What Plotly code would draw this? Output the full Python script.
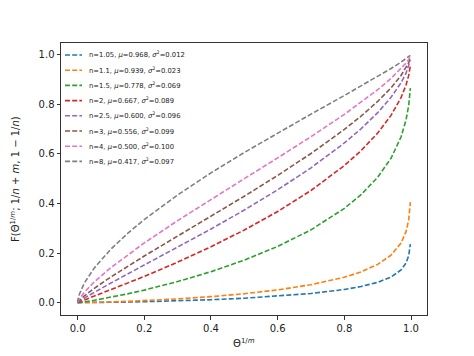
import plotly.graph_objects as go

# x values (Theta^(1/m))
x = [0, 0.001, 0.005, 0.02, 0.05, 0.1, 0.15, 0.2, 0.3, 0.4, 0.5, 0.6, 0.7,
     0.8, 0.85, 0.9, 0.94, 0.97, 0.985, 0.993, 0.998]

n105 = [0, 0.0000, 0.0000, 0.0001, 0.0004, 0.0013, 0.0023, 0.0037, 0.0071, 0.0117, 0.0178,
        0.0258, 0.0368, 0.0531, 0.0649, 0.0818, 0.1031, 0.1317, 0.1596, 0.1894, 0.2363]
n11 = [0, 0.0000, 0.0000, 0.0003, 0.0010, 0.0028, 0.0051, 0.0079, 0.0149, 0.0241, 0.0359,
       0.0514, 0.0722, 0.1024, 0.1240, 0.1542, 0.1915, 0.2401, 0.2861, 0.3337, 0.4053]
n15 = [0, 0.0001, 0.0006, 0.0032, 0.0094, 0.0216, 0.0354, 0.0505, 0.0848, 0.1248, 0.1714,
       0.2265, 0.2936, 0.3799, 0.4353, 0.5056, 0.5823, 0.6680, 0.7364, 0.7954, 0.8652]
n2 = [0, 0.0005, 0.0025, 0.0101, 0.0253, 0.0513, 0.0780, 0.1056, 0.1633, 0.2254, 0.2929,
      0.3675, 0.4523, 0.5528, 0.6127, 0.6838, 0.7551, 0.8268, 0.8775, 0.9163, 0.9553]
n25 = [0, 0.0012, 0.0053, 0.0184, 0.0422, 0.0794, 0.1156, 0.1514, 0.2233, 0.2968, 0.3735,
       0.4550, 0.5436, 0.6438, 0.7009, 0.7660, 0.8280, 0.8867, 0.9253, 0.9527, 0.9777]
n3 = [0, 0.0022, 0.0084, 0.0268, 0.0578, 0.1037, 0.1467, 0.1880, 0.2685, 0.3483, 0.4292,
      0.5129, 0.6014, 0.6983, 0.7519, 0.8113, 0.8662, 0.9159, 0.9471, 0.9681, 0.9862]
n4 = [0, 0.0044, 0.0148, 0.0419, 0.0837, 0.1415, 0.1929, 0.2408, 0.3307, 0.4163, 0.5000,
      0.5837, 0.6693, 0.7592, 0.8071, 0.8585, 0.9040, 0.9431, 0.9662, 0.9809, 0.9926]
n8 = [0, 0.0121, 0.0331, 0.0788, 0.1398, 0.2162, 0.2793, 0.3352, 0.4344, 0.5232, 0.6057,
      0.6842, 0.7602, 0.8354, 0.8733, 0.9120, 0.9441, 0.9697, 0.9835, 0.9916, 0.9972]

labels = [
    "n=1.05, <i>μ</i>=0.968, <i>σ</i><sup>2</sup>=0.012",
    "n=1.1, <i>μ</i>=0.939, <i>σ</i><sup>2</sup>=0.023",
    "n=1.5, <i>μ</i>=0.778, <i>σ</i><sup>2</sup>=0.069",
    "n=2, <i>μ</i>=0.667, <i>σ</i><sup>2</sup>=0.089",
    "n=2.5, <i>μ</i>=0.600, <i>σ</i><sup>2</sup>=0.096",
    "n=3, <i>μ</i>=0.556, <i>σ</i><sup>2</sup>=0.099",
    "n=4, <i>μ</i>=0.500, <i>σ</i><sup>2</sup>=0.100",
    "n=8, <i>μ</i>=0.417, <i>σ</i><sup>2</sup>=0.097",
]
series = [n105, n11, n15, n2, n25, n3, n4, n8]
colors = ["#1f77b4", "#ff7f0e", "#2ca02c", "#d62728",
          "#9467bd", "#8c564b", "#e377c2", "#7f7f7f"]

ticks = [0.0, 0.2, 0.4, 0.6, 0.8, 1.0]
ticktext = ["0.0", "0.2", "0.4", "0.6", "0.8", "1.0"]

x_title = "Θ<sup>1/<i>m</i></sup>"
y_title = "F(Θ<sup>1/<i>m</i></sup>; 1/<i>n</i> + <i>m</i>, 1 − 1/<i>n</i>)"

DASH = "5px,2.2px"

fig = go.Figure()
for ys, lab, col in zip(series, labels, colors):
    fig.add_trace(go.Scatter(x=x, y=ys, mode="lines", name=lab, showlegend=False,
                             line=dict(color=col, width=1.6, dash=DASH)))

# Plot-area geometry (pixels) and helpers to paper coordinates
PLOT_L, PLOT_R, PLOT_T, PLOT_B = 61, 427, 43, 315
W, H = PLOT_R - PLOT_L, PLOT_B - PLOT_T
def px(xp):
    return (xp - PLOT_L) / W
def py(yp):
    return (PLOT_B - yp) / H

# Manual legend (matplotlib-like compact spacing)
row0, row_gap = 55.0, 15.2
for i, (lab, col) in enumerate(zip(labels, colors)):
    yc = row0 + i * row_gap
    fig.add_shape(type="line", xref="paper", yref="paper",
                  x0=px(65), x1=px(82), y0=py(yc), y1=py(yc),
                  line=dict(color=col, width=1.6, dash=DASH))
    fig.add_annotation(xref="paper", yref="paper", x=px(87), y=py(yc),
                       xanchor="left", yanchor="middle", showarrow=False,
                       text=lab, font=dict(family="DejaVu Sans", size=6.8, color="#222222"))

# Axis titles
fig.add_annotation(xref="paper", yref="paper", x=0.5, y=py(343),
                   xanchor="center", yanchor="middle", showarrow=False,
                   text=x_title, font=dict(family="DejaVu Sans", size=10, color="#222222"))
fig.add_annotation(xref="paper", yref="paper", x=px(15), y=0.5, textangle=-90,
                   xanchor="center", yanchor="middle", showarrow=False,
                   text=y_title, font=dict(family="DejaVu Sans", size=10, color="#222222"))

axis_common = dict(showgrid=False, zeroline=False, showline=True, mirror=True,
                   linecolor="#333333", linewidth=1, ticks="outside", ticklen=3.5,
                   tickwidth=1, tickcolor="#333333", automargin=False,
                   tickfont=dict(family="DejaVu Sans", size=10, color="#222222"),
                   tickvals=ticks, ticktext=ticktext)

fig.update_layout(
    width=474, height=356,
    margin=dict(l=PLOT_L, r=474 - PLOT_R, t=PLOT_T, b=356 - PLOT_B),
    paper_bgcolor="white", plot_bgcolor="white",
    font=dict(family="DejaVu Sans", color="#222222"),
    xaxis=dict(range=[-0.0499, 1.0479], **axis_common),
    yaxis=dict(range=[-0.0499, 1.047], **axis_common),
    showlegend=False,
)

fig.write_html("out.html", config={"displayModeBar": False, "staticPlot": True},
               post_script="document.body.style.margin='0';document.body.style.padding='0';")
